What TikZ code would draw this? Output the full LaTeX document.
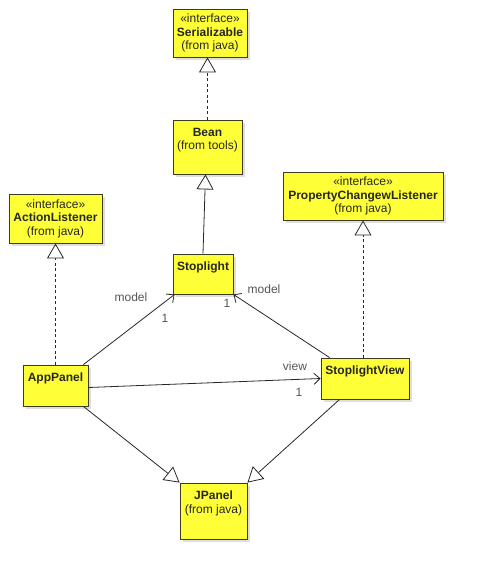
\documentclass[tikz,border=0pt]{standalone}
\usepackage{fontspec}
\setmainfont{Liberation Sans}
\usetikzlibrary{arrows.meta,shadows}
\definecolor{boxfill}{RGB}{255,255,55}
\definecolor{boxline}{RGB}{60,60,35}
\definecolor{conn}{RGB}{40,40,40}
\definecolor{lbl}{RGB}{85,85,85}
\begin{document}
\begin{tikzpicture}[x=1pt,y=-1pt,
  umlbox/.style={draw=boxline, fill=boxfill, line width=0.9pt, inner sep=0pt,
    drop shadow={shadow xshift=3pt,shadow yshift=-3pt,fill=black!18,opacity=0.7}},
  boxtxt/.style={font=\fontsize{12}{13.5}\selectfont, align=center, inner sep=0pt, text=black!85},
  toptxt/.style={boxtxt, anchor=north, yshift=-8.3pt},
  lab/.style={font=\fontsize{12}{13.5}\selectfont, text=lbl, inner sep=0pt},
  gen/.style={draw=conn, line width=0.8pt, -{Triangle[length=15pt,width=17pt,fill=white]}},
  real/.style={gen, dash pattern=on 3pt off 2.5pt},
  assoc/.style={draw=conn, line width=0.8pt, -{Straight Barb[length=6pt,width=11pt]}}
]
\useasboundingbox[fill=white] (0,0) rectangle (479,576);

% boxes
\node[umlbox, minimum width=74pt, minimum height=48pt] (ser) at (210,33) {};
\node[boxtxt] (sert) at (ser.center) {«interface»\\\textbf{Serializable}\\(from java)};

\node[umlbox, minimum width=69pt, minimum height=54pt] (bean) at (207.5,147) {};
\node[toptxt] (beant) at (bean.north) {\textbf{Bean}\\(from tools)};

\node[umlbox, minimum width=93pt, minimum height=49pt] (act) at (55.5,218.5) {};
\node[boxtxt] (actt) at (act.center) {«interface»\\\textbf{ActionListener}\\(from java)};

\node[umlbox, minimum width=160pt, minimum height=48pt] (pcl) at (363,196) {};
\node[boxtxt] (pclt) at (pcl.center) {«interface»\\\textbf{PropertyChangewListener}\\(from java)};

\node[umlbox, minimum width=60pt, minimum height=40pt] (stop) at (203,274) {};
\node[toptxt] (stopt) at (stop.north) {\textbf{Stoplight}};

\node[umlbox, minimum width=65pt, minimum height=41pt] (app) at (55.5,385.5) {};
\node[toptxt] (appt) at (app.north) {\textbf{AppPanel}};

\node[umlbox, minimum width=88pt, minimum height=41pt] (view) at (365,378.5) {};
\node[toptxt] (viewt) at (view.north) {\textbf{StoplightView}};

\node[umlbox, minimum width=67pt, minimum height=56pt] (jp) at (213.5,511) {};
\node[toptxt] (jpt) at (jp.north) {\textbf{JPanel}\\(from java)};

% realizations / generalizations
\draw[real] (bean.north) -- (bean.north |- ser.south);
\draw[gen] (stop.north) -- ([xshift=-2pt]bean.south);
\draw[real] (app.north) -- (app.north |- act.south);
\draw[real] (pcl.south |- view.north) -- (pcl.south);
\draw[gen] ([xshift=-5pt]app.south east) -- (jp.north west);
\draw[gen] ([xshift=19pt]view.south west) -- (jp.north east);

% associations
\draw[assoc] ([xshift=-5pt]app.north east) -- ([xshift=2pt]stop.south west);
\draw[assoc] ([xshift=9pt]view.north west) -- (stop.south east);
\draw[assoc] ([yshift=-2pt]app.east) -- (view.west);

% labels
\node[lab] (l1) at (131,297) {model};
\node[lab] (l2) at (165,318) {1};
\node[lab] (l3) at (264,289) {model};
\node[lab] (l4) at (227,303) {1};
\node[lab] (l5) at (295,366) {view};
\node[lab] (l6) at (299,392) {1};
\end{tikzpicture}
\end{document}
